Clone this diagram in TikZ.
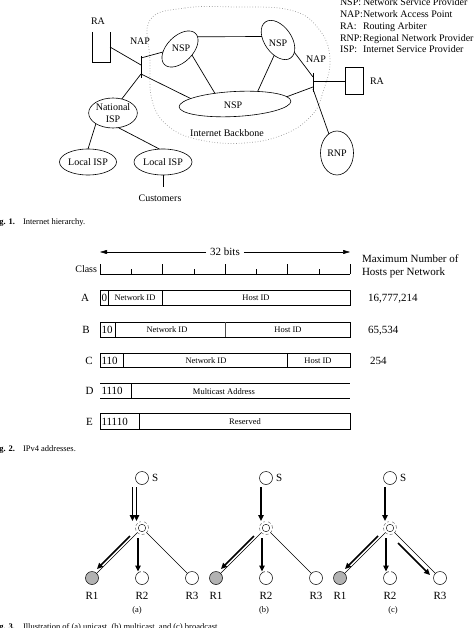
\documentclass[tikz,border=0pt]{standalone}
\usepackage{fontspec}
\setmainfont{Liberation Serif}
\usetikzlibrary{shapes.geometric,arrows.meta,calc}
\begin{document}
\begin{tikzpicture}[x=1pt,y=-1pt,
  every node/.style={inner sep=0pt,outer sep=0pt},
  f10/.style={font=\fontsize{10}{11.7}\selectfont},
  f11/.style={font=\fontsize{11}{13}\selectfont},
  f85/.style={font=\fontsize{8.5}{10}\selectfont},
  blob/.style={ellipse,draw,line width=0.6pt},
  link/.style={line width=0.7pt},
  legab/.style={f10,anchor=base west},
  capt/.style={f85,anchor=base west},
  capnum/.style={font=\bfseries\fontsize{8.5}{10}\selectfont,anchor=base east},
  cloud/.style={draw=black!40,dotted,line width=0.7pt},
  fld/.style={line width=0.5pt},
  txtb/.style={f85,anchor=base},
  bitb/.style={f11,anchor=base west},
  host/.style={circle,draw,line width=0.5pt,minimum size=13pt},
  rtr/.style={circle,draw=black!70,densely dashed,line width=0.4pt,minimum size=13pt},
  rtin/.style={circle,draw,line width=0.4pt,minimum size=7.5pt},
  lnk/.style={line width=0.45pt},
  dlnk/.style={double,double distance=1.1pt,line width=0.4pt},
  marr/.style={line width=1.7pt,-{Triangle[length=6pt,width=5.5pt]}},
]
\useasboundingbox (0,0) rectangle (474,628);
\clip (0,0) rectangle (474,628);
\fill[white] (0,0) rectangle (474,628);

% ---------------- Fig. 1 ----------------
\draw[cloud] plot[smooth cycle, tension=0.7] coordinates {(150,20) (185,8) (235,7) (290,10) (318,28) (330,58) (323,92) (312,115) (285,134) (245,143) (200,140) (168,126) (152,100) (150,60)};

\node[f10] (raLt) at (98,21) {RA};
\node[minimum width=18pt,minimum height=30pt] (raL) at (101,47) {};
\draw[link] (raL.north west) -- (raL.south west) -- (raL.south east) -- (raL.north east);
\node[f10] (napLt) at (140,41) {NAP};
\coordinate (jLa) at (141,56);
\coordinate (jLb) at (141,78);
\coordinate (jL1) at (141,58);
\coordinate (jL2) at (141,65);
\coordinate (jL3) at (141,74);
\draw[link] (jLa) -- (jLb);

\node[blob,minimum width=44pt,minimum height=26pt,rotate=45] (nsp1) at (180,49) {};
\node[f10] (nsp1t) at (181,48) {NSP};
\node[blob,minimum width=44pt,minimum height=27pt,rotate=-55] (nsp2) at (278,40) {};
\node[f10] (nsp2t) at (278,43) {NSP};
\node[blob,minimum width=112pt,minimum height=25pt,rotate=3] (nspB) at (235,104) {};
\node[f10] (nspBt) at (233,105) {NSP};
\node[f10] (bbt) at (227,133) {Internet Backbone};

\node[f10] (napRt) at (316,59) {NAP};
\coordinate (jRa) at (313,73);
\coordinate (jRb) at (313,92);
\coordinate (jR1) at (313,77);
\coordinate (jR2) at (313,81);
\coordinate (jR3) at (313,87);
\coordinate (jR4) at (313,89);
\draw[link] (jRa) -- (jRb);
\node[draw,line width=0.6pt,minimum width=18pt,minimum height=27pt] (raR) at (354,81) {};
\node[f10] (raRt) at (377,81) {RA};
\node[blob,minimum width=33pt,minimum height=44pt] (rnp) at (337,153) {};
\node[f10] (rnpt) at (337,153) {RNP};

\node[blob,minimum width=46pt,minimum height=30pt,align=center,f10] (nisp) at (113,113) {National\\ISP};
\node[blob,minimum width=57pt,minimum height=26pt,f10] (lisp1) at (88,162) {Local ISP};
\node[blob,minimum width=58pt,minimum height=26pt,f10] (lisp2) at (163,162) {Local ISP};
\coordinate (custtop) at (163,187);
\node[f10] (cust) at (160,198) {Customers};

\draw[link] (raL.east) -- (jL2);
\draw[link] (nsp1.145) -- (jL1);
\draw[link] (jL3) -- (nisp.58);
\draw[link] (jL3) -- (nspB.170);
\draw[link] (nsp1.-10) -- (nsp2.223);
\draw[link] (nsp1.288) -- (nspB.149);
\draw[link] (nsp2.311) -- (nspB.26);
\draw[link] (nsp2.18) -- (jR1);
\draw[link] (jR2) -- (raR.west);
\draw[link] (nspB.5) -- (jR3);
\draw[link] (jR4) -- (rnp.113);
\draw[link] (nisp.212) -- (lisp1.north);
\draw[link] (nisp.290) -- (lisp2.105);
\draw[link] (lisp2.south) -- (custtop);

% legend
\node[legab] (l1a) at (340,6) {NSP:};  \node[legab] (l1b) at (363,6) {Network Service Provider};
\node[legab] (l2a) at (340,18) {NAP:}; \node[legab] (l2b) at (363,18) {Network Access Point};
\node[legab] (l3a) at (340,30) {RA:};  \node[legab] (l3b) at (363,30) {Routing Arbiter};
\node[legab] (l4a) at (340,41.5) {RNP:}; \node[legab] (l4b) at (363,41.5) {Regional Network Provider};
\node[legab] (l5a) at (340,53) {ISP:}; \node[legab] (l5b) at (363,53) {Internet Service Provider};

\node[capnum] (c1n) at (15,225) {Fig. 1.};
\node[capt] (c1) at (23,225) {Internet hierarchy.};

% ---------------- Fig. 2 ----------------
\node[f11] (bits) at (225,252) {32 bits};
\coordinate (arL) at (100,252);
\coordinate (arR) at (350,252);
\draw[fld,shorten <=4pt,-{Triangle[length=7pt,width=4pt]}] (bits.west) -- (arL);
\draw[fld,shorten <=4pt,-{Triangle[length=7pt,width=4pt]}] (bits.east) -- (arR);
\node[f10,anchor=base east] (cls) at (97,272) {Class};
\draw[fld] (100,274) -- (350,274);
\foreach \i in {0,...,8}{
  \ifodd\i
    \draw[fld] ({100+31.25*\i},269) -- ({100+31.25*\i},274);
  \else
    \draw[fld] ({100+31.25*\i},264) -- ({100+31.25*\i},274);
  \fi
}
\node[f11,anchor=base west] (mh1) at (362,262) {Maximum Number of};
\node[f11,anchor=base west] (mh2) at (362,275) {Hosts per Network};

% row A
\draw[fld] (100,290) rectangle (350,305);
\draw[fld] (107.8,290) -- (107.8,305);
\draw[fld] (162.5,290) -- (162.5,305);
\node[f11,anchor=base] (rA) at (85,301) {A};
\node[bitb] (bA) at (101.5,301) {0};
\node[txtb] (nA) at (135,300.5) {Network ID};
\node[txtb] (hA) at (256,300.5) {Host ID};
\node[f11,anchor=base west] (vA) at (368,301) {16,777,214};
% row B
\draw[fld] (100,322) rectangle (350,337);
\draw[fld] (115.6,322) -- (115.6,337);
\draw[fld,black!70] (225,322) -- (225,337);
\node[f11,anchor=base] (rB) at (86,333) {B};
\node[bitb] (bB) at (101.5,333) {10};
\node[txtb] (nB) at (167,332.5) {Network ID};
\node[txtb] (hB) at (288,332.5) {Host ID};
\node[f11,anchor=base west] (vB) at (368,333) {65,534};
% row C
\draw[fld] (100,353) rectangle (350,367);
\draw[fld] (123.4,353) -- (123.4,367);
\draw[fld] (287.5,353) -- (287.5,367);
\node[f11,anchor=base] (rC) at (89,364) {C};
\node[bitb] (bC) at (101.5,364) {110};
\node[txtb] (nC) at (206,363.5) {Network ID};
\node[txtb] (hC) at (318,363.5) {Host ID};
\node[f11,anchor=base west] (vC) at (370,364) {254};
% row D
\draw[fld] (100,383) -- (350,383);
\draw[fld] (100,398) -- (350,398);
\draw[fld] (131.25,383) -- (131.25,398);
\node[f11,anchor=base] (rD) at (89.5,394.5) {D};
\node[bitb] (bD) at (101.5,394.5) {1110};
\node[txtb] (nD) at (224,394) {Multicast Address};
% row E
\draw[fld] (100,413) rectangle (350,429);
\draw[fld] (139.1,413) -- (139.1,429);
\node[f11,anchor=base] (rE) at (89.5,425) {E};
\node[bitb] (bE) at (101.5,425) {11110};
\node[txtb] (nE) at (245,424.5) {Reserved};

\node[capnum] (c2n) at (15,451) {Fig. 2.};
\node[capt] (c2) at (23,451) {IPv4 addresses.};

% ---------------- Fig. 3 ----------------
\foreach \p/\ox in {a/0,b/124,c/248}{
  \node[host] (s\p) at ({142+\ox},478) {};
  \node[f11,anchor=west] (st\p) at ({152+\ox},478) {S};
  \node[rtr] (rt\p) at ({142+\ox},528) {};
  \node[rtin] (ri\p) at ({142+\ox},528) {};
  \node[host,fill=black!30] (r1\p) at ({92+\ox},578) {};
  \node[host] (r2\p) at ({142+\ox},578) {};
  \node[host] (r3\p) at ({192+\ox},578) {};
  \node[f11,anchor=base] (l1\p) at ({92+\ox},599) {R1};
  \node[f11,anchor=base] (l2\p) at ({142+\ox},599) {R2};
  \node[f11,anchor=base] (l3\p) at ({192+\ox},599) {R3};
  \draw[dlnk] (s\p) -- (rt\p);
  \draw[dlnk] (rt\p) -- (r2\p);
  \draw[lnk] (rt\p) -- (r1\p);
  \draw[lnk] (rt\p) -- (r3\p);
  \draw[marr] ($(rt\p)!0.2!(r1\p)+(-2,-2)$) -- ($(rt\p)!0.86!(r1\p)+(-2,-2)$);
  \draw[marr] ($(rt\p)!0.2!(r2\p)+(-4,0)$) -- ($(rt\p)!0.87!(r2\p)+(-4,0)$);
}
\node[f85] (pa) at (137,610) {(a)};
\node[f85] (pb) at (264,610) {(b)};
\node[f85] (pc) at (393,610) {(c)};
% unicast: two copies
\draw[marr] ($(sa)!0.18!(rta)+(-9.5,0)$) -- ($(sa)!0.86!(rta)+(-9.5,0)$);
\draw[marr] ($(sa)!0.18!(rta)+(-5.5,0)$) -- ($(sa)!0.86!(rta)+(-5.5,0)$);
\draw[marr] ($(sb)!0.18!(rtb)+(-5,0)$) -- ($(sb)!0.86!(rtb)+(-5,0)$);
\draw[marr] ($(sc)!0.18!(rtc)+(-5,0)$) -- ($(sc)!0.86!(rtc)+(-5,0)$);
\draw[marr] ($(rtc)!0.22!(r3c)+(-3,4)$) -- ($(rtc)!0.86!(r3c)+(-3,4)$);

\node[capnum] (c3n) at (15,629) {Fig. 3.};
\node[capt] (c3) at (23,629) {Illustration of (a) unicast, (b) multicast, and (c) broadcast.};
\end{tikzpicture}
\end{document}
